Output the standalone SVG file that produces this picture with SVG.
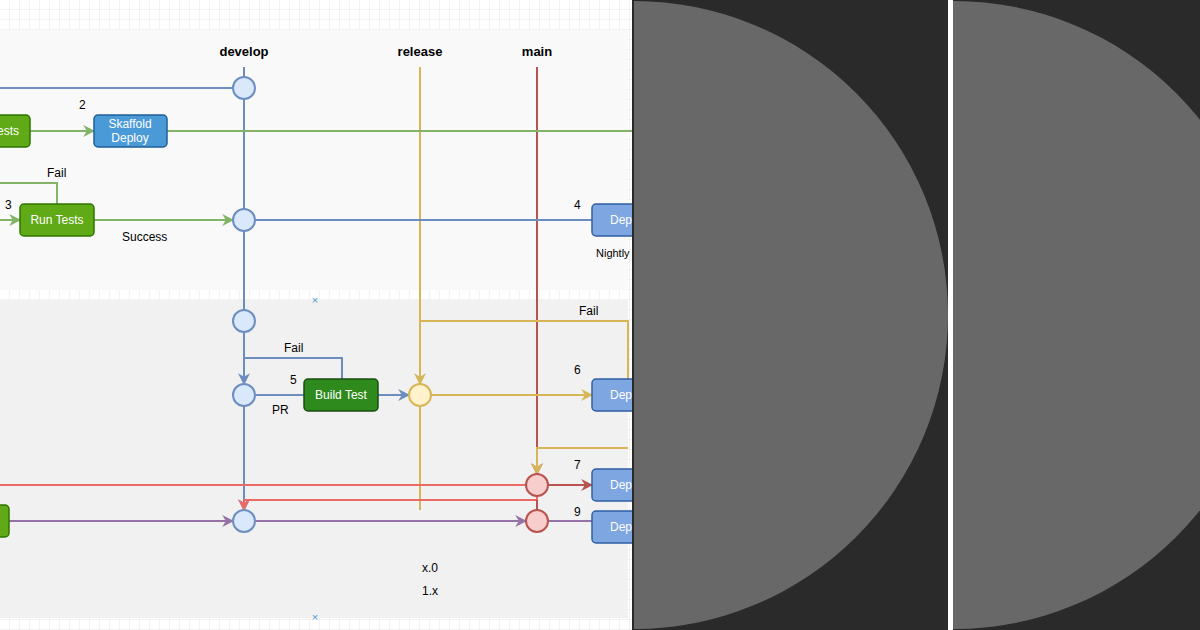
<svg xmlns="http://www.w3.org/2000/svg" width="1200" height="630" viewBox="0 0 1200 630">
<defs>
<style>
text{font-family:"Liberation Sans",Arial,sans-serif;font-size:12px;fill:#000}
.h{font-weight:bold;font-size:13px;text-anchor:middle}
.w{fill:#fff;text-anchor:middle}
.c{fill:none;stroke-width:2}
.b{stroke:#6c8ebf}.g{stroke:#82b366}.y{stroke:#d6b656}.r{stroke:#b85450}.rr{stroke:#ea6b66}.p{stroke:#9673a6}
.nb{fill:#dae8fc;stroke:#6c8ebf;stroke-width:2}
.ny{fill:#fff2cc;stroke:#d6b656;stroke-width:2}
.nr{fill:#f8cecc;stroke:#b85450;stroke-width:2}
</style>
<clipPath id="k1"><rect x="634" y="0" width="314" height="630"/></clipPath>
<clipPath id="k2"><rect x="953" y="0" width="247" height="630"/></clipPath>
<pattern id="grid" width="10" height="10" patternUnits="userSpaceOnUse"><path d="M10 0V10H0" fill="none" stroke="#e6e6e6" stroke-width="1"/></pattern>
<marker id="ab" viewBox="0 0 10 10" refX="9" refY="5" markerWidth="6" markerHeight="6" orient="auto"><path d="M0 0L10 5L0 10L3 5z" fill="#6c8ebf"/></marker>
<marker id="ag" viewBox="0 0 10 10" refX="9" refY="5" markerWidth="6" markerHeight="6" orient="auto"><path d="M0 0L10 5L0 10L3 5z" fill="#82b366"/></marker>
<marker id="ay" viewBox="0 0 10 10" refX="9" refY="5" markerWidth="6" markerHeight="6" orient="auto"><path d="M0 0L10 5L0 10L3 5z" fill="#d6b656"/></marker>
<marker id="ar" viewBox="0 0 10 10" refX="9" refY="5" markerWidth="6" markerHeight="6" orient="auto"><path d="M0 0L10 5L0 10L3 5z" fill="#b85450"/></marker>
<marker id="arr" viewBox="0 0 10 10" refX="9" refY="5" markerWidth="6" markerHeight="6" orient="auto"><path d="M0 0L10 5L0 10L3 5z" fill="#ea6b66"/></marker>
<marker id="ap" viewBox="0 0 10 10" refX="9" refY="5" markerWidth="6" markerHeight="6" orient="auto"><path d="M0 0L10 5L0 10L3 5z" fill="#9673a6"/></marker>
</defs>
<rect width="632" height="630" fill="#fff"/>
<rect width="632" height="630" fill="url(#grid)"/>
<rect x="0" y="30" width="628" height="260" fill="#f9f9f9"/>
<rect x="0" y="300" width="628" height="318" fill="#f1f1f1"/>
<text x="315" y="304" style="fill:#4a9ad6;font-size:11px" text-anchor="middle">×</text>
<text x="315" y="621" style="fill:#4a9ad6;font-size:11px" text-anchor="middle">×</text>
<text class="h" x="244" y="56">develop</text>
<text class="h" x="420" y="56">release</text>
<text class="h" x="537" y="56">main</text>
<g id="connectors">
<path class="c b" d="M244 67V384" marker-end="url(#ab)"/>
<path class="c b" d="M244 406V510" marker-end="url(#ab)"/>
<path class="c y" d="M420 67V510"/>
<path class="c r" d="M537 67V474" marker-end="url(#ar)"/>
<path class="c b" d="M0 88H233"/>
<path class="c g" d="M30 131H94" marker-end="url(#ag)"/>
<path class="c g" d="M167 131H632"/>
<path class="c g" d="M0 183H57V204"/>
<path class="c g" d="M0 220H20" marker-end="url(#ag)"/>
<path class="c g" d="M94 220H233" marker-end="url(#ag)"/>
<path class="c b" d="M255 220H592"/>
<path class="c b" d="M342 379V358H244"/>
<path class="c b" d="M255 395H304"/>
<path class="c b" d="M378 395H409" marker-end="url(#ab)"/>
<path class="c y" d="M628 400V321H420V384" marker-end="url(#ay)"/>
<path class="c y" d="M431 395H592" marker-end="url(#ay)"/>
<path class="c y" d="M628 448H537V474" marker-end="url(#ay)"/>
<path class="c rr" d="M0 485H526"/>
<path class="c r" d="M548 485H592" marker-end="url(#ar)"/>
<path class="c rr" d="M537 496V500H244V510" marker-end="url(#arr)"/>
<path class="c r" d="M537 500V510"/>
<path class="c p" d="M9 521H233" marker-end="url(#ap)"/>
<path class="c p" d="M255 521H526" marker-end="url(#ap)"/>
<path class="c p" d="M548 521H592"/>
</g>
<g id="c1"><circle class="nb" cx="244" cy="88" r="11"/></g>
<g id="c2"><circle class="nb" cx="244" cy="220" r="11"/></g>
<g id="c3"><circle class="nb" cx="244" cy="321" r="11"/></g>
<g id="c4"><circle class="nb" cx="244" cy="395" r="11"/></g>
<g id="c5"><circle class="nb" cx="244" cy="521" r="11"/></g>
<g id="c6"><circle class="ny" cx="420" cy="395" r="11"/></g>
<g id="c7"><circle class="nr" cx="537" cy="485" r="11"/></g>
<g id="c8"><circle class="nr" cx="537" cy="521" r="11"/></g>
<g id="tests"><rect x="-20" y="115" width="50" height="32" rx="4" fill="#60a917" stroke="#2d7600" stroke-width="1.5"/><text class="w" x="8" y="135">ests</text></g>
<g id="skaffold"><rect x="94" y="115" width="73" height="32" rx="4" fill="#4b9ad8" stroke="#1f5f99" stroke-width="1.5"/><text class="w" x="130" y="128">Skaffold</text><text class="w" x="130" y="142">Deploy</text></g>
<g id="runtests"><rect x="20" y="204" width="74" height="32" rx="4" fill="#60a917" stroke="#2d7600" stroke-width="1.5"/><text class="w" x="57" y="224">Run Tests</text></g>
<g id="buildtest"><rect x="304" y="379" width="74" height="32" rx="4" fill="#2f8a1e" stroke="#1a4d10" stroke-width="1.5"/><text class="w" x="341" y="399">Build Test</text></g>
<g id="bl"><rect x="-20" y="505" width="29" height="32" rx="4" fill="#60a917" stroke="#2d7600" stroke-width="1.5"/></g>
<g id="d4"><rect x="592" y="204" width="60" height="32" rx="4" fill="#7ea6e0" stroke="#2f5fa3" stroke-width="1.5"/><text x="610" y="224" style="fill:#fff">Dep</text></g>
<g id="d6"><rect x="592" y="379" width="60" height="32" rx="4" fill="#7ea6e0" stroke="#2f5fa3" stroke-width="1.5"/><text x="610" y="399" style="fill:#fff">Dep</text></g>
<g id="d7"><rect x="592" y="469" width="60" height="32" rx="4" fill="#7ea6e0" stroke="#2f5fa3" stroke-width="1.5"/><text x="610" y="489" style="fill:#fff">Dep</text></g>
<g id="d9"><rect x="592" y="511" width="60" height="32" rx="4" fill="#7ea6e0" stroke="#2f5fa3" stroke-width="1.5"/><text x="610" y="531" style="fill:#fff">Dep</text></g>
<text x="79" y="109">2</text>
<text x="47" y="177">Fail</text>
<text x="5" y="209">3</text>
<text x="122" y="241">Success</text>
<text x="574" y="209">4</text>
<text x="596" y="257" style="font-size:11px">Nightly</text>
<text x="284" y="352">Fail</text>
<text x="290" y="384">5</text>
<text x="272" y="414">PR</text>
<text x="579" y="315">Fail</text>
<text x="574" y="374">6</text>
<text x="574" y="469">7</text>
<text x="574" y="516">9</text>
<text x="422" y="572">x.0</text>
<text x="422" y="595">1.x</text>
<rect x="632" y="0" width="568" height="630" fill="#2a2a2a"/>
<circle cx="634" cy="315" r="314" fill="#686868" clip-path="url(#k1)"/>
<rect x="948" y="0" width="5" height="630" fill="#fff"/>
<circle cx="954" cy="315" r="314" fill="#686868" clip-path="url(#k2)"/>
</svg>
